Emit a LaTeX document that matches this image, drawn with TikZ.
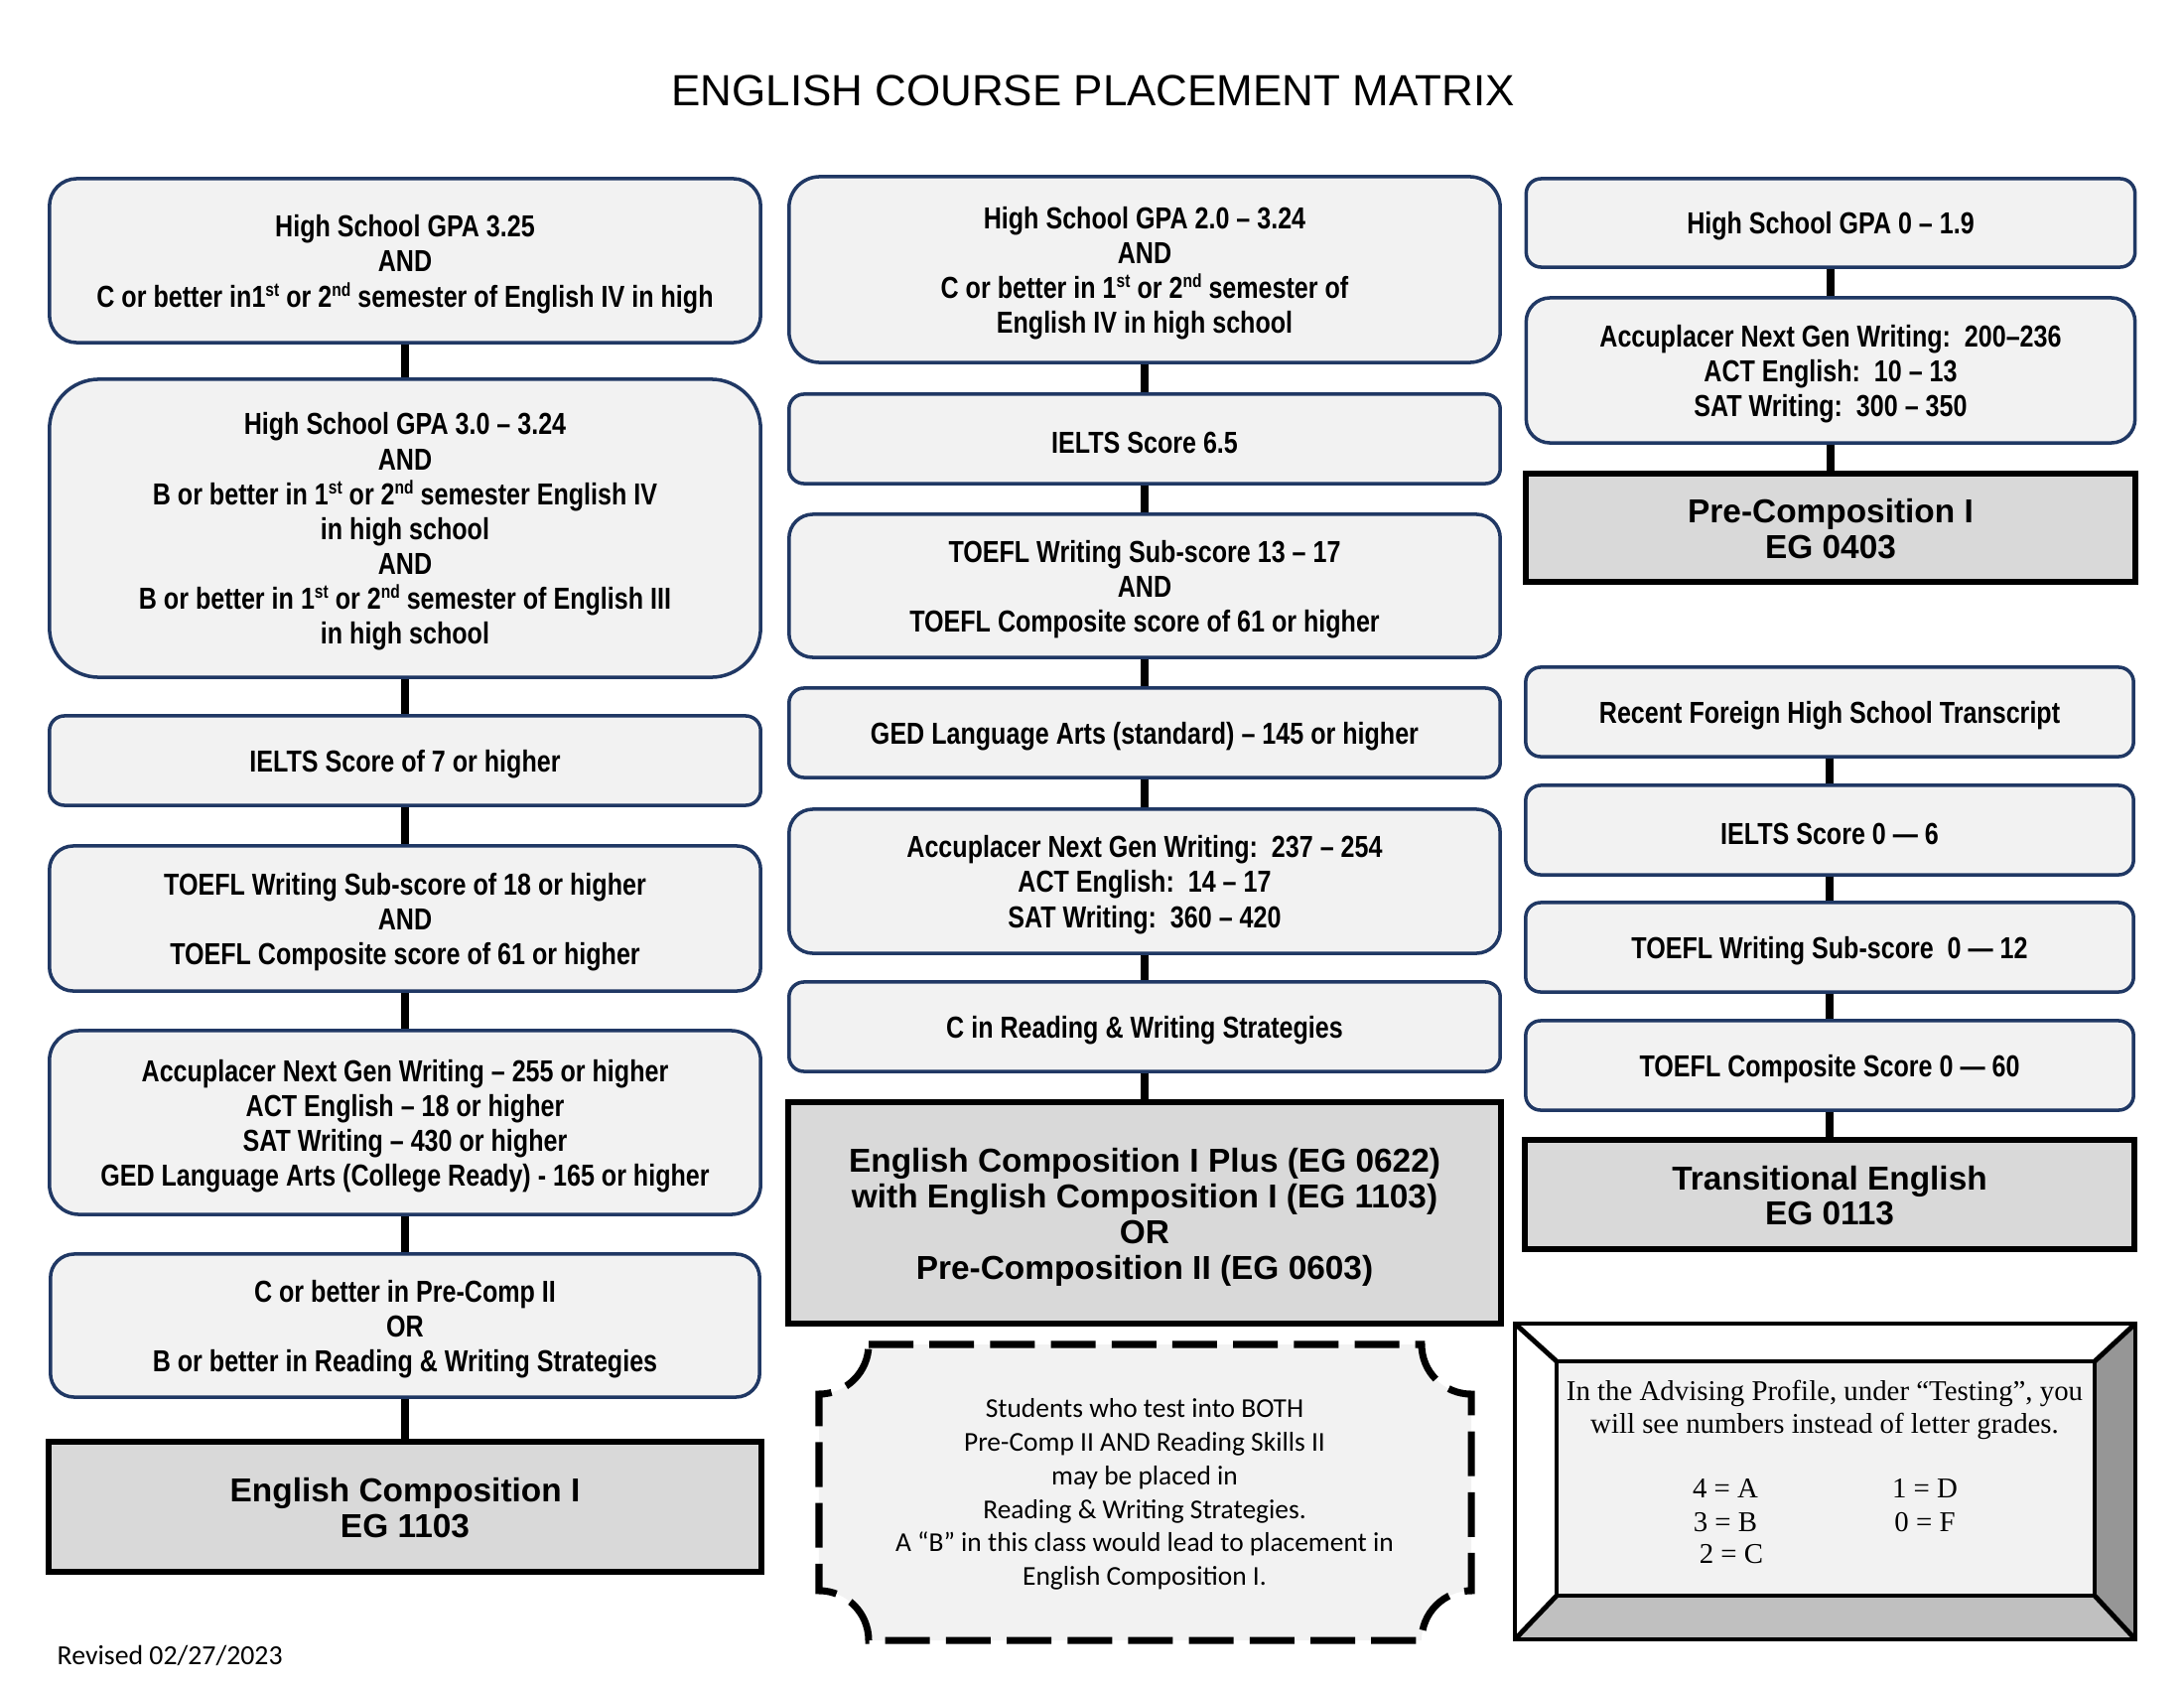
\documentclass[tikz,border=0pt]{standalone}
\usepackage{fontspec}
\setmainfont{Liberation Sans}
\newfontfamily\narrowfont[FakeStretch=0.82]{Liberation Sans}
\newfontfamily\notefont{Carlito}
\newfontfamily\advfont{Liberation Serif}
\newcommand\sps[1]{\raisebox{0.36em}{\fontsize{5.4}{5}\selectfont #1}}
\newcommand\fs{\rule{0pt}{8.3pt}}
\newcommand\fp{\rule{0pt}{7.5pt}}
\definecolor{navy}{HTML}{203864}
\definecolor{boxfill}{HTML}{F2F2F2}
\definecolor{placefill}{HTML}{D9D9D9}
\definecolor{bevdark}{HTML}{969696}
\definecolor{bevlight}{HTML}{C0C0C0}
\tikzset{
  rbox/.style={draw=navy, fill=boxfill, line width=1pt, align=center, inner sep=0pt,
    font=\narrowfont\bfseries\fontsize{8.7}{10}\selectfont},
  pbox/.style={draw=black, fill=placefill, line width=1.7pt, align=center, inner sep=0pt,
    font=\bfseries\fontsize{9.5}{10.2}\selectfont},
  link/.style={line width=2.3pt, draw=black},
  notestyle/.style={draw=black, fill=boxfill, line width=2pt, dash pattern=on 12.8pt off 4.6pt},
  bev/.style={draw=black, line width=1.4pt, line join=miter},
  advtext/.style={font=\advfont\fontsize{8.2}{9.4}\selectfont},
}
\begin{document}
\begin{tikzpicture}[x=0.01cm, y=-0.01cm]
\useasboundingbox (0,0) rectangle (2200,1700);
\fill[white] (0,0) rectangle (2200,1700);

\node[font=\fontsize{12.5}{14}\selectfont] (title) at (1101,91) {ENGLISH COURSE PLACEMENT MATRIX};

% left column
\node[rbox, minimum width=7.16cm, minimum height=1.65cm, rounded corners=0.275cm] (L1) at (408,262.5)
  {\fs High School GPA 3.25\\AND\\C or better in1\sps{st} or 2\sps{nd} semester of English IV in high};
\node[rbox, minimum width=7.16cm, minimum height=3.00cm, rounded corners=0.5cm] (L2) at (408,532)
  {\fs High School GPA 3.0 – 3.24\\AND\\B or better in 1\sps{st} or 2\sps{nd} semester English IV\\in high school\\AND\\B or better in 1\sps{st} or 2\sps{nd} semester of English III\\in high school};
\node[rbox, minimum width=7.16cm, minimum height=0.90cm, rounded corners=0.15cm] (L3) at (408,766)
  {\fs IELTS Score of 7 or higher};
\node[rbox, minimum width=7.16cm, minimum height=1.46cm, rounded corners=0.24cm] (L4) at (408,925)
  {\fs TOEFL Writing Sub-score of 18 or higher\\AND\\TOEFL Composite score of 61 or higher};
\node[rbox, minimum width=7.16cm, minimum height=1.85cm, rounded corners=0.3cm] (L5) at (408,1130.5)
  {\fs Accuplacer Next Gen Writing – 255 or higher\\ACT English – 18 or higher\\SAT Writing – 430 or higher\\GED Language Arts (College Ready) - 165 or higher};
\node[rbox, minimum width=7.14cm, minimum height=1.44cm, rounded corners=0.24cm] (L6) at (408,1335)
  {\fs C or better in Pre-Comp II\\OR\\B or better in Reading \& Writing Strategies};
\node[pbox, minimum width=7.17cm, minimum height=1.31cm] (L7) at (408,1517.5)
  {\fp English Composition I\\EG 1103};

% middle column
\node[rbox, minimum width=7.16cm, minimum height=1.87cm, rounded corners=0.31cm] (M1) at (1153,271.5)
  {\fs High School GPA 2.0 – 3.24\\AND\\C or better in 1\sps{st} or 2\sps{nd} semester of\\English IV in high school};
\node[rbox, minimum width=7.16cm, minimum height=0.90cm, rounded corners=0.15cm] (M2) at (1153,442)
  {\fs IELTS Score 6.5};
\node[rbox, minimum width=7.16cm, minimum height=1.44cm, rounded corners=0.24cm] (M3) at (1153,590)
  {\fs TOEFL Writing Sub-score 13 – 17\\AND\\TOEFL Composite score of 61 or higher};
\node[rbox, minimum width=7.16cm, minimum height=0.90cm, rounded corners=0.15cm] (M4) at (1153,738)
  {\fs GED Language Arts (standard) – 145 or higher};
\node[rbox, minimum width=7.16cm, minimum height=1.45cm, rounded corners=0.24cm] (M5) at (1153,887.5)
  {\fs Accuplacer Next Gen Writing:\ \ 237 – 254\\ACT English:\ \ 14 – 17\\SAT Writing:\ \ 360 – 420};
\node[rbox, minimum width=7.16cm, minimum height=0.90cm, rounded corners=0.15cm] (M6) at (1153,1034)
  {\fs C in Reading \& Writing Strategies};
\node[pbox, minimum width=7.17cm, minimum height=2.23cm] (M7) at (1153,1221.5)
  {\rule{0pt}{9.2pt}English Composition I Plus (EG 0622)\\with English Composition I (EG 1103)\\OR\\Pre-Composition II (EG 0603)};

% right column
\node[rbox, minimum width=6.13cm, minimum height=0.89cm, rounded corners=0.15cm] (R1) at (1844,224.5)
  {\fs High School GPA 0 – 1.9};
\node[rbox, minimum width=6.13cm, minimum height=1.46cm, rounded corners=0.24cm] (R2) at (1844,373)
  {\fs Accuplacer Next Gen Writing:\ \ 200–236\\ACT English:\ \ 10 – 13\\SAT Writing:\ \ 300 – 350};
\node[pbox, minimum width=6.13cm, minimum height=1.09cm] (R3) at (1844,531.5)
  {\fp Pre-Composition I\\EG 0403};
\node[rbox, minimum width=6.12cm, minimum height=0.90cm, rounded corners=0.15cm] (R4) at (1843,717)
  {\fs Recent Foreign High School Transcript};
\node[rbox, minimum width=6.12cm, minimum height=0.90cm, rounded corners=0.15cm] (R5) at (1843,836)
  {\fs IELTS Score 0 — 6};
\node[rbox, minimum width=6.12cm, minimum height=0.90cm, rounded corners=0.15cm] (R6) at (1843,954)
  {\fs TOEFL Writing Sub-score\ \ 0 — 12};
\node[rbox, minimum width=6.12cm, minimum height=0.90cm, rounded corners=0.15cm] (R7) at (1843,1073)
  {\fs TOEFL Composite Score 0 — 60};
\node[pbox, minimum width=6.14cm, minimum height=1.10cm] (R8) at (1843,1203)
  {\fp Transitional English\\EG 0113};

% connectors
\foreach \a/\b in {L1/L2,L2/L3,L3/L4,L4/L5,L5/L6,L6/L7,M1/M2,M2/M3,M3/M4,M4/M5,M5/M6,M6/M7,R1/R2,R2/R3,R4/R5,R5/R6,R6/R7,R7/R8}
  \draw[link] (\a.south) -- (\b.north);

% note plaque
\draw[notestyle] (875,1354) -- (1432,1354) arc[start angle=180, end angle=270, radius=0.5cm]
  -- (1482,1602) arc[start angle=90, end angle=180, radius=0.5cm]
  -- (875,1652) arc[start angle=0, end angle=90, radius=0.5cm]
  -- (825,1404) arc[start angle=270, end angle=360, radius=0.5cm] -- cycle;
\node[align=center, font=\notefont\fontsize{7.8}{9.6}\selectfont] (note) at (1153,1505)
  {Students who test into BOTH\\Pre-Comp II AND Reading Skills II\\may be placed in\\Reading \& Writing Strategies.\\A “B” in this class would lead to placement in\\English Composition I.};

% advising bevel box
\coordinate (o1) at (1526,1333); \coordinate (o2) at (2151,1333);
\coordinate (o3) at (2151,1651); \coordinate (o4) at (1526,1651);
\coordinate (i1) at (1568,1371); \coordinate (i2) at (2110,1371);
\coordinate (i3) at (2110,1607); \coordinate (i4) at (1568,1607);
\fill[white] (o1) -- (o2) -- (i2) -- (i1) -- cycle;
\fill[white] (o1) -- (i1) -- (i4) -- (o4) -- cycle;
\fill[bevdark] (o2) -- (o3) -- (i3) -- (i2) -- cycle;
\fill[bevlight] (o4) -- (o3) -- (i3) -- (i4) -- cycle;
\fill[boxfill] (i1) rectangle (i3);
\draw[bev] (o1) -- (o2) -- (o3) -- (o4) -- cycle;
\draw[bev] (i1) -- (i2) -- (i3) -- (i4) -- cycle;
\draw[bev] (o1) -- (i1) (o2) -- (i2) (o3) -- (i3) (o4) -- (i4);
\node[align=center, advtext] (adv) at (1838,1420)
  {In the Advising Profile, under “Testing”, you\\will see numbers instead of letter grades.};
\node[advtext] (g4) at (1738,1499) {4 = A};
\node[advtext] (g3) at (1738,1533) {3 = B};
\node[advtext] (g2) at (1744,1565) {2 = C};
\node[advtext] (g1) at (1939,1499) {1 = D};
\node[advtext] (g0) at (1939,1533) {0 = F};

\node[anchor=west, font=\notefont\fontsize{7.9}{9}\selectfont, inner sep=0pt] (rev) at (57,1667) {Revised 02/27/2023};
\end{tikzpicture}
\end{document}
